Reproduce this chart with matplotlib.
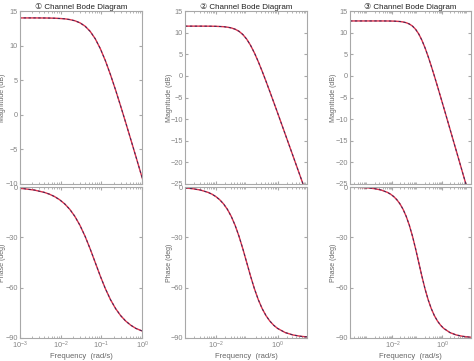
import numpy as np
import matplotlib.pyplot as plt
from matplotlib.ticker import LogLocator, NullFormatter

# values (rad/s, dB, deg)
w1 = [7.08e-4, 1.259e-3, 2.239e-3, 3.981e-3, 5.309e-3, 7.079e-3, 9.441e-3, 1.259e-2, 1.679e-2,
      2.239e-2, 2.985e-2, 3.981e-2, 5.309e-2, 7.079e-2, 9.441e-2, 0.1259, 0.1679, 0.2239,
      0.2985, 0.3981, 0.5309, 0.7079, 1.259]
mag1 = [14.0, 14.0, 14.0, 13.99, 13.98, 13.96, 13.92, 13.87, 13.76,
        13.59, 13.29, 12.81, 12.06, 10.99, 9.56, 7.81, 5.79, 3.59,
        1.26, -1.14, -3.58, -6.04, -11.01]
ph1 = [-0.57, -1.02, -1.81, -3.22, -4.29, -5.71, -7.60, -10.08, -13.34,
       -17.55, -22.87, -29.36, -36.87, -45.0, -53.13, -60.64, -67.13, -72.45,
       -76.66, -79.92, -82.40, -84.29, -86.78]

w2 = [1e-3, 1.778e-3, 3.162e-3, 5.623e-3, 7.499e-3, 1e-2, 1.334e-2, 1.778e-2, 2.371e-2,
      3.162e-2, 4.217e-2, 5.623e-2, 7.499e-2, 0.1, 0.1334, 0.1778, 0.2371, 0.3162,
      0.4217, 0.5623, 0.7499, 1.0, 1.778, 3.162, 5.623, 10.0]
mag2 = [11.5, 11.5, 11.5, 11.49, 11.48, 11.46, 11.42, 11.37, 11.26,
        11.09, 10.79, 10.31, 9.56, 8.49, 7.06, 5.31, 3.29, 1.09,
        -1.24, -3.64, -6.08, -8.54, -13.51, -18.50, -23.5, -28.5]
ph2 = [-0.57, -1.02, -1.81, -3.22, -4.29, -5.71, -7.60, -10.08, -13.34,
       -17.55, -22.87, -29.36, -36.87, -45.0, -53.13, -60.64, -67.13, -72.45,
       -76.66, -79.92, -82.40, -84.29, -86.78, -88.19, -88.98, -89.43]

w3 = [2.0e-4, 3.548e-4, 6.310e-4, 1.122e-3, 1.995e-3, 3.548e-3, 6.310e-3, 8.414e-3, 1.122e-2,
      1.496e-2, 1.995e-2, 2.661e-2, 3.548e-2, 4.732e-2, 6.310e-2, 8.414e-2, 0.1122, 0.1496,
      0.1995, 0.2661, 0.3548, 0.4732, 0.6310, 0.8414, 1.122, 1.995, 3.548, 6.310, 11.22, 19.95]
mag3 = [12.7, 12.7, 12.7, 12.7, 12.7, 12.7, 12.69, 12.68, 12.66,
        12.62, 12.57, 12.46, 12.29, 11.99, 11.51, 10.76, 9.69, 8.26,
        6.51, 4.49, 2.29, -0.04, -2.44, -4.88, -7.34, -12.31, -17.30, -22.3, -27.3, -32.3]
ph3 = [-0.10, -0.18, -0.32, -0.57, -1.02, -1.81, -3.22, -4.29, -5.71,
       -7.60, -10.08, -13.34, -17.55, -22.87, -29.36, -36.87, -45.0, -53.13,
       -60.64, -67.13, -72.45, -76.66, -79.92, -82.40, -84.29, -86.78, -88.19, -88.98, -89.43, -89.68]

titles = ['\u2460 Channel Bode Diagram', '\u2461 Channel Bode Diagram', '\u2462 Channel Bode Diagram']
xlims = [(1e-3, 1.0), (1e-3, 9.0), (2e-4, 13.8)]
xticks = [[1e-3, 1e-2, 1e-1, 1e0], [1e-2, 1e0], [1e-2, 1e0]]
maglims = [(-10, 15), (-25, 15), (-25, 15)]
magticks = [[-10, -5, 0, 5, 10, 15], list(range(-25, 16, 5)), list(range(-25, 16, 5))]
phticks = [-90, -60, -30, 0]

W, H = 474, 361
lefts = [20, 185, 350]
widths = [122, 122, 121]
ylab_x = [-0.115, -0.095, -0.105]
mag_top, mag_bot = 11, 184
ph_top, ph_bot = 187, 338

grey = '#a8a8a8'
tick_c = '#858585'
lab_c = '#666666'

plt.rcParams['font.family'] = ['Liberation Sans', 'DejaVu Sans']
fig = plt.figure(figsize=(W / 100, H / 100), dpi=100)


def style(ax, xlim, ticks):
    ax.set_xscale('log')
    ax.set_xlim(*xlim)
    ax.set_xticks(ticks)
    ax.xaxis.set_minor_locator(LogLocator(base=10, subs=np.arange(2, 10), numticks=20))
    ax.xaxis.set_minor_formatter(NullFormatter())
    ax.tick_params(which='both', direction='in', top=True, right=True, colors=grey,
                   labelcolor=tick_c, labelsize=5.3, pad=1.5)
    ax.tick_params(which='major', length=2.5)
    ax.tick_params(which='minor', length=1.3)
    for s in ax.spines.values():
        s.set_color(grey)
        s.set_linewidth(0.8)


series = [(w1, mag1, ph1), (w2, mag2, ph2), (w3, mag3, ph3)]
for i, (w, mag, ph) in enumerate(series):
    x0 = lefts[i] / W
    wd = widths[i] / W
    axm = fig.add_axes([x0, 1 - mag_bot / H, wd, (mag_bot - mag_top) / H])
    axp = fig.add_axes([x0, 1 - ph_bot / H, wd, (ph_bot - ph_top) / H])

    for ax, y in ((axm, mag), (axp, ph)):
        ax.plot(w, y, color='#e0304a', lw=1.0)
        ax.plot(w, y, color='#3a2a5a', lw=0.7, ls=(0, (2.5, 2.5)))

    style(axm, xlims[i], xticks[i])
    style(axp, xlims[i], xticks[i])
    axm.set_ylim(*maglims[i])
    axm.set_yticks(magticks[i])
    axm.set_xticklabels([])
    axp.set_ylim(-90, 0)
    axp.set_yticks(phticks)

    axm.set_title(titles[i], fontsize=5.8, color='#222222', pad=1.5)
    axm.set_ylabel('Magnitude (dB)', fontsize=5, color=lab_c)
    axp.set_ylabel('Phase (deg)', fontsize=5, color=lab_c)
    axm.yaxis.set_label_coords(ylab_x[i], 0.5)
    axp.yaxis.set_label_coords(ylab_x[i], 0.5)
    axp.set_xlabel('Frequency  (rad/s)', fontsize=5.5, color=lab_c, labelpad=1)

fig.savefig('out.png', dpi=100)
